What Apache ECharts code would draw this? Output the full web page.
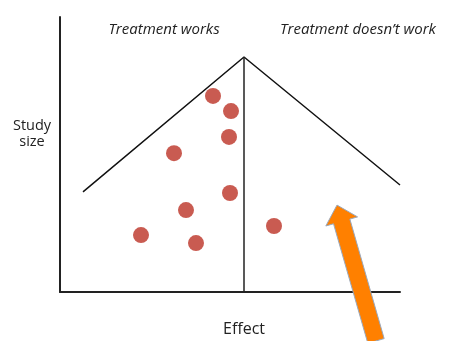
<!DOCTYPE html>
<html>
<head>
<meta charset="utf-8">
<script src="https://cdn.jsdelivr.net/npm/echarts@6/dist/echarts.min.js"></script>
<style>html,body{margin:0;padding:0;background:#fff}#c{width:460px;height:341px}</style>
</head>
<body>
<div id="c"></div>
<script>
// Effect (x) vs study size (y), arbitrary units
const funnelLine = [[-8.05, 36.4], [0, 85.45], [7.8, 38.9]];
const nullLine = [[0, 0], [0, 85.45]];
const studies = [
  [-1.55, 71.3], [-0.65, 65.8], [-0.75, 56.4], [-3.5, 50.5], [-0.7, 36.0],
  [-2.9, 29.8], [1.5, 24.0], [-5.15, 20.7], [-2.4, 17.8]
];
const arrowPts = [[6.6, -17.8], [4.65, 31.6]]; // tail, tip
const labels = {
  left: 'Treatment works',
  right: 'Treatment doesn\u2019t work',
  x: 'Effect',
  y: 'Study\nsize'
};

const chart = echarts.init(document.getElementById('c'), null, {renderer: 'canvas'});
const font = '"Open Sans", "Liberation Sans", sans-serif';
chart.setOption({
  animation: false,
  backgroundColor: '#fff',
  grid: {left: 60, right: 60, top: 17, bottom: 49},
  xAxis: {
    type: 'value', min: -9.2, max: 7.8,
    axisLine: {show: true, onZero: false, lineStyle: {color: '#222', width: 2}},
    axisTick: {show: false}, axisLabel: {show: false}, splitLine: {show: false}
  },
  yAxis: {
    type: 'value', min: 0, max: 100,
    axisLine: {show: true, onZero: false, lineStyle: {color: '#222', width: 2}},
    axisTick: {show: false}, axisLabel: {show: false}, splitLine: {show: false}
  },
  graphic: [
    {type: 'text', style: {text: labels.left, x: 164, y: 30, align: 'center', verticalAlign: 'middle', font: 'italic 15px ' + font, fill: '#222'}},
    {type: 'text', style: {text: labels.right, x: 358, y: 30, align: 'center', verticalAlign: 'middle', font: 'italic 15px ' + font, fill: '#222'}},
    {type: 'text', style: {text: labels.x, x: 244, y: 329, align: 'center', verticalAlign: 'middle', font: '16px ' + font, fill: '#222'}},
    {type: 'text', style: {text: labels.y, x: 32, y: 134, align: 'center', verticalAlign: 'middle', font: '14.5px ' + font, lineHeight: 16, fill: '#222'}}
  ],
  series: [
    {type: 'line', data: funnelLine, symbol: 'none', lineStyle: {color: '#111', width: 1.5}, z: 2},
    {type: 'line', data: nullLine, symbol: 'none', lineStyle: {color: '#222', width: 1.5}, z: 2},
    {type: 'scatter', data: studies, symbolSize: 16, itemStyle: {color: '#c95b51', opacity: 1}, z: 3},
    {
      type: 'custom', clip: false, z: 5,
      data: [arrowPts[0].concat(arrowPts[1])],
      renderItem: function (params, api) {
        const t = api.coord([api.value(0), api.value(1)]);
        const h = api.coord([api.value(2), api.value(3)]);
        const dx = h[0] - t[0], dy = h[1] - t[1];
        const L = Math.sqrt(dx * dx + dy * dy);
        const ux = dx / L, uy = dy / L, px = -uy, py = ux;
        const sw = 8.5, hw = 16.5, hl = 17;
        const bx = h[0] - ux * hl, by = h[1] - uy * hl;
        const pts = [
          [t[0] + px * sw, t[1] + py * sw],
          [bx + px * sw, by + py * sw],
          [bx + px * hw, by + py * hw],
          [h[0], h[1]],
          [bx - px * hw, by - py * hw],
          [bx - px * sw, by - py * sw],
          [t[0] - px * sw, t[1] - py * sw]
        ];
        return {type: 'polygon', shape: {points: pts}, style: {fill: '#ff8000', stroke: '#9aa8bc', lineWidth: 1}};
      }
    }
  ]
});
</script>
</body>
</html>
